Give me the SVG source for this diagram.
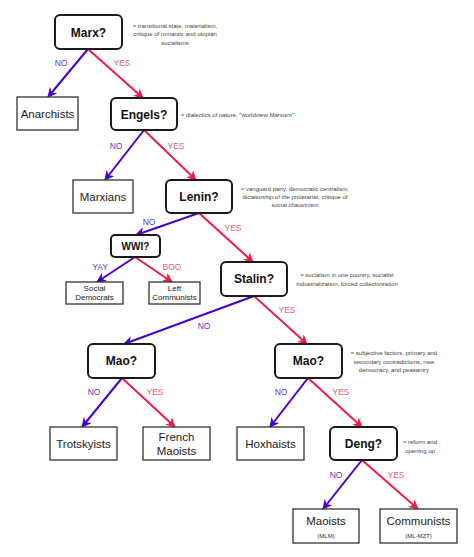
<svg xmlns="http://www.w3.org/2000/svg" width="474" height="557" viewBox="0 0 474 557">
<defs>
<style>
text{font-family:"Liberation Sans",Arial,sans-serif;text-anchor:middle}
.q{fill:#fff;stroke:#1a1a1a;stroke-width:2}
.t{fill:#fff;stroke:#333;stroke-width:1.3}
.qt{font-size:12px;font-weight:bold;fill:#111}
.tt{font-size:11.5px;fill:#222}
.st{font-size:8px;fill:#222}
.ann{font-size:6px;fill:#444}
.sub{font-size:6px;fill:#333}
.no{stroke:#4a00cc;stroke-width:2;fill:none;marker-end:url(#an)}
.yes{stroke:#ee1c4a;stroke-width:2;fill:none;marker-end:url(#ay)}
.nl{font-size:8.5px;fill:#5a37c8}
.yl{font-size:8.5px;fill:#ec5a7e}
</style>
<marker id="an" viewBox="0 0 10 10" refX="9" refY="5" markerWidth="5" markerHeight="5" orient="auto" markerUnits="strokeWidth"><path d="M0,0 L10,5 L0,10 L3,5 z" fill="#4a00cc"/></marker>
<marker id="ay" viewBox="0 0 10 10" refX="9" refY="5" markerWidth="5" markerHeight="5" orient="auto" markerUnits="strokeWidth"><path d="M0,0 L10,5 L0,10 L3,5 z" fill="#ee1c4a"/></marker>
</defs>
<rect width="474" height="557" fill="#fff"/>
<g id="connectors">
<line class="no" x1="88" y1="49" x2="48" y2="97"/>
<line class="yes" x1="88" y1="49" x2="143" y2="98"/>
<line class="no" x1="144" y1="130" x2="105" y2="180"/>
<line class="yes" x1="144" y1="130" x2="196" y2="180"/>
<line class="no" x1="199" y1="213" x2="136" y2="235"/>
<line class="yes" x1="199" y1="213" x2="253" y2="262"/>
<line class="no" x1="135" y1="257" x2="97" y2="282"/>
<line class="yes" x1="135" y1="257" x2="172" y2="282"/>
<line class="no" x1="254" y1="296" x2="124" y2="344"/>
<line class="yes" x1="254" y1="296" x2="307" y2="344"/>
<line class="no" x1="122" y1="378" x2="82" y2="427"/>
<line class="yes" x1="122" y1="378" x2="175" y2="427"/>
<line class="no" x1="308" y1="378" x2="270" y2="427"/>
<line class="yes" x1="308" y1="378" x2="362" y2="427"/>
<line class="no" x1="362" y1="460" x2="323" y2="509"/>
<line class="yes" x1="362" y1="460" x2="418" y2="509"/>
<text class="nl" x="61" y="66">NO</text>
<text class="yl" x="122" y="66">YES</text>
<text class="nl" x="116" y="149">NO</text>
<text class="yl" x="176" y="149">YES</text>
<text class="nl" x="149" y="225">NO</text>
<text class="yl" x="233" y="231">YES</text>
<text class="nl" x="100" y="270">YAY</text>
<text class="yl" x="172" y="270">BOO</text>
<text class="nl" x="204" y="329">NO</text>
<text class="yl" x="287" y="313">YES</text>
<text class="nl" x="94" y="395">NO</text>
<text class="yl" x="155" y="395">YES</text>
<text class="nl" x="281" y="395">NO</text>
<text class="yl" x="341" y="395">YES</text>
<text class="nl" x="336" y="478">NO</text>
<text class="yl" x="396" y="478">YES</text>
</g>
<g id="marx">
<rect class="q" x="55" y="15" width="67" height="34" rx="5"/>
<text class="qt" x="88.5" y="36.5">Marx?</text>
<text class="ann" x="175" y="28">≈ transitional state, materialism,</text>
<text class="ann" x="175" y="36">critique of romantic and utopian</text>
<text class="ann" x="175" y="44.5">socialisms</text>
</g>
<g id="anarchists">
<rect class="t" x="17" y="97" width="61" height="33"/>
<text class="tt" x="47.5" y="117.5">Anarchists</text>
</g>
<g id="engels">
<rect class="q" x="111" y="98" width="66" height="32" rx="5"/>
<text class="qt" x="144" y="118.5">Engels?</text>
<text class="ann" x="181" y="117" style="text-anchor:start">≈ dialectics of nature, "worldview Marxism"</text>
</g>
<g id="marxians">
<rect class="t" x="73" y="180" width="60" height="33"/>
<text class="tt" x="103" y="200.5">Marxians</text>
</g>
<g id="lenin">
<rect class="q" x="166" y="180" width="66" height="33" rx="5"/>
<text class="qt" x="199" y="200.5">Lenin?</text>
<text class="ann" x="295" y="190.5">≈ vanguard party, democratic centralism,</text>
<text class="ann" x="295" y="198.5">dictatorship of the proletariat, critique of</text>
<text class="ann" x="295" y="206.5">social chauvinism</text>
</g>
<g id="wwi">
<rect class="q" x="111" y="235" width="49" height="22" rx="4"/>
<text style="font-size:10px;font-weight:bold;fill:#111" x="135.5" y="249.5">WWI?</text>
</g>
<g id="socdem">
<rect class="t" x="66" y="282" width="57" height="22"/>
<text class="st" x="94.5" y="291">Social</text>
<text class="st" x="94.5" y="300">Democrats</text>
</g>
<g id="leftcom">
<rect class="t" x="149" y="282" width="51" height="22"/>
<text class="st" x="174.5" y="291">Left</text>
<text class="st" x="174.5" y="300">Communists</text>
</g>
<g id="stalin">
<rect class="q" x="221" y="262" width="66" height="34" rx="5"/>
<text class="qt" x="254" y="283">Stalin?</text>
<text class="ann" x="347" y="277">≈ socialism in one country, socialist</text>
<text class="ann" x="347" y="285.5">industrialization, forced collectivization</text>
</g>
<g id="mao-left">
<rect class="q" x="88" y="344" width="67" height="34" rx="5"/>
<text class="qt" x="121.5" y="365">Mao?</text>
</g>
<g id="trotskyists">
<rect class="t" x="50" y="427" width="67" height="33"/>
<text class="tt" x="83.5" y="447.5">Trotskyists</text>
</g>
<g id="french-maoists">
<rect class="t" x="143" y="427" width="67" height="33"/>
<text class="tt" x="176.5" y="441">French</text>
<text class="tt" x="176.5" y="455">Maoists</text>
</g>
<g id="mao-right">
<rect class="q" x="275" y="344" width="67" height="34" rx="5"/>
<text class="qt" x="308.5" y="365">Mao?</text>
<text class="ann" x="394" y="355">≈ subjective factors, primary and</text>
<text class="ann" x="394" y="363.5">secondary contradictions, new</text>
<text class="ann" x="394" y="372">democracy, and peasantry</text>
</g>
<g id="hoxhaists">
<rect class="t" x="237" y="427" width="67" height="33"/>
<text class="tt" x="270.5" y="447.5">Hoxhaists</text>
</g>
<g id="deng">
<rect class="q" x="330" y="427" width="67" height="33" rx="5"/>
<text class="qt" x="363.5" y="448">Deng?</text>
<text class="ann" x="420" y="444">≈ reform and</text>
<text class="ann" x="420" y="452.5">opening up</text>
</g>
<g id="maoists">
<rect class="t" x="293" y="509" width="66" height="34"/>
<text class="tt" x="326" y="525">Maoists</text>
<text class="sub" x="326" y="537.5">(MLM)</text>
</g>
<g id="communists">
<rect class="t" x="380" y="509" width="77" height="34"/>
<text class="tt" x="418.5" y="525">Communists</text>
<text class="sub" x="418.5" y="537.5">(ML-MZT)</text>
</g>
</svg>
